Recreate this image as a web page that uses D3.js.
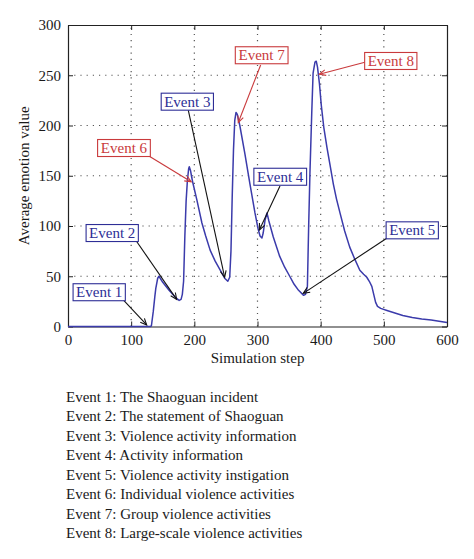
<!DOCTYPE html>
<html><head><meta charset="utf-8">
<script src="https://cdn.jsdelivr.net/npm/d3@7"></script>
<style>body{margin:0;background:#fff}svg{display:block}text{font-family:"Liberation Serif","Times New Roman",serif}</style>
</head><body>
<script>
// ---- data ----
const stepX = [0,130,132,135,137.5,139,142,144,150,160,170,176,179,181,183,185,187,189,191,192,194,196,198,204,212,218,225,233,241,248,253,256,258,260,262,264,266,268,272,280,288,296,301,304,307,309,312,315,318,325,335,343,351,358,365,373,376,379,381,383,386,388,391,393,395,398,401,405,410,415,420,425,431,438,446,454,462,468,473,477,481,484,487,490,495,505,515,530,545,560,575,590,600];
const emotion = [0,0,0.5,15,30,38,48,50,44,36,29,26,27,32,45,90,125,145,157,159,155,148,142,126,103,90,76,65,56,48,45,49,75,130,176,205,213,211,200,172,142,113,97,90,88,93,106,113,105,89,70,59,50,42,36,31,32,40,100,152,215,252,263,264,258,242,220,198,178,160,142,127,112,95,79,67,56,52,49,45,40,32,24,20,18,16,14,11,9,7.5,6.5,5,4];
const xTicks = [0,100,200,300,400,500,600];
const yTicks = [0,50,100,150,200,250,300];
const eventNames = ["Event 1","Event 2","Event 3","Event 4","Event 5","Event 6","Event 7","Event 8"];
const eventKind = ["blue","blue","blue","blue","blue","red","red","red"];
const labelX = [49.4,70,188.9,336,545,88.6,306.6,511];
const labelY = [34.1,93,223.7,149,95.7,177.6,269.9,264.2];
const tailX = [87.5,107.6,190.4,335.6,507,125.5,305,472.9];
const tailY = [26.4,85.6,215.4,139.8,88.8,170.6,260.2,263.5];
const tipX = [124.6,172,248,302.9,372.5,195,269.6,397.9];
const tipY = [1.5,27,49,96,33,144,203,251];
const legendLines = ["Event 1: The Shaoguan incident","Event 2: The statement of Shaoguan","Event 3: Violence activity information","Event 4: Activity information","Event 5: Violence activity instigation","Event 6: Individual violence activities","Event 7: Group violence activities","Event 8: Large-scale violence activities"];

// ---- drawing ----
const W=474,H=559;
const m={l:68,r:27,t:25,b:232.5};
const svg=d3.select("body").append("svg").attr("width",W).attr("height",H);
const x=d3.scaleLinear().domain([0,600]).range([m.l,W-m.r]);
const y=d3.scaleLinear().domain([0,300]).range([H-m.b,m.t]);
const lineBlue="#3b3bab", textBlue="#2e2e96", red="#c93a3c";
const fs=15;

// grid
const g=svg.append("g");
g.selectAll(".gx").data(xTicks.slice(1,-1)).join("line")
 .attr("x1",d=>x(d)).attr("x2",d=>x(d)).attr("y1",y(0)).attr("y2",y(300))
 .attr("stroke","#555").attr("stroke-width",1.2).attr("stroke-dasharray","1.2,5");
g.selectAll(".gy").data(yTicks.slice(1,-1)).join("line")
 .attr("y1",d=>y(d)).attr("y2",d=>y(d)).attr("x1",x(0)).attr("x2",x(600))
 .attr("stroke","#555").attr("stroke-width",1.2).attr("stroke-dasharray","1.2,5");

// axes
const ax=svg.append("g").attr("transform",`translate(0,${y(0)})`)
 .call(d3.axisBottom(x).tickValues(xTicks).tickSizeInner(-5).tickSizeOuter(0).tickPadding(8));
const ay=svg.append("g").attr("transform",`translate(${x(0)},0)`)
 .call(d3.axisLeft(y).tickValues(yTicks).tickSizeInner(-5).tickSizeOuter(0).tickPadding(7));
const at=svg.append("g").attr("transform",`translate(0,${y(300)})`)
 .call(d3.axisTop(x).tickValues(xTicks).tickSizeInner(-5).tickSizeOuter(0).tickFormat(""));
const ar=svg.append("g").attr("transform",`translate(${x(600)},0)`)
 .call(d3.axisRight(y).tickValues(yTicks).tickSizeInner(-5).tickSizeOuter(0).tickFormat(""));
[ax,ay,at,ar].forEach(a=>{a.selectAll("path").attr("stroke","#222").attr("stroke-width",1.2);
 a.selectAll("line").attr("stroke","#222");
 a.selectAll("text").attr("font-size",fs).attr("fill","#1a1a1a").style("font-family",'"Liberation Serif",serif');});

// axis labels
svg.append("text").attr("x",(x(0)+x(600))/2).attr("y",363).attr("text-anchor","middle")
 .attr("font-size",fs).attr("fill","#1a1a1a").text("Simulation step");
svg.append("text").attr("transform",`translate(29,${(y(0)+y(300))/2}) rotate(-90)`).attr("text-anchor","middle")
 .attr("font-size",fs).attr("fill","#1a1a1a").text("Average emotion value");

// curve
const pts=stepX.map((d,i)=>[d,emotion[i]]);
svg.append("path").datum(pts).attr("fill","none").attr("stroke",lineBlue).attr("stroke-width",1.5)
 .attr("stroke-linejoin","round")
 .attr("d",d3.line().x(d=>x(d[0])).y(d=>y(d[1])));

// annotations
eventNames.forEach((name,i)=>{
  const col=eventKind[i]==="red"?red:"#111";
  const tcol=eventKind[i]==="red"?red:textBlue;
  const ag=svg.append("g");
  const x0=x(tailX[i]),y0=y(tailY[i]),x1=x(tipX[i]),y1=y(tipY[i]);
  ag.append("line").attr("x1",x0).attr("y1",y0).attr("x2",x1).attr("y2",y1).attr("stroke",col).attr("stroke-width",1.1);
  const ang=Math.atan2(y1-y0,x1-x0), L=7, a=0.42;
  const hp=[[x1-L*Math.cos(ang-a),y1-L*Math.sin(ang-a)],[x1,y1],[x1-L*Math.cos(ang+a),y1-L*Math.sin(ang+a)]];
  ag.append("path").attr("d",d3.line()(hp)).attr("fill","none").attr("stroke",col).attr("stroke-width",1.1);
  const cx=x(labelX[i]),cy=y(labelY[i]);
  const rect=ag.append("rect");
  const t=ag.append("text").attr("x",cx).attr("y",cy+5).attr("text-anchor","middle")
   .attr("font-size",fs).attr("fill",tcol).text(name);
  const bb=t.node().getBBox();
  rect.attr("x",cx-bb.width/2-3).attr("y",cy-8.5).attr("width",bb.width+6).attr("height",17)
   .attr("fill","#fff").attr("stroke",tcol).attr("stroke-width",1.1);
});

// legend text
svg.selectAll(".leg").data(legendLines).join("text")
 .attr("x",66).attr("y",(d,i)=>401.5+i*19.5).attr("font-size",fs).attr("fill","#1a1a1a").text(d=>d);
</script>
</body></html>
